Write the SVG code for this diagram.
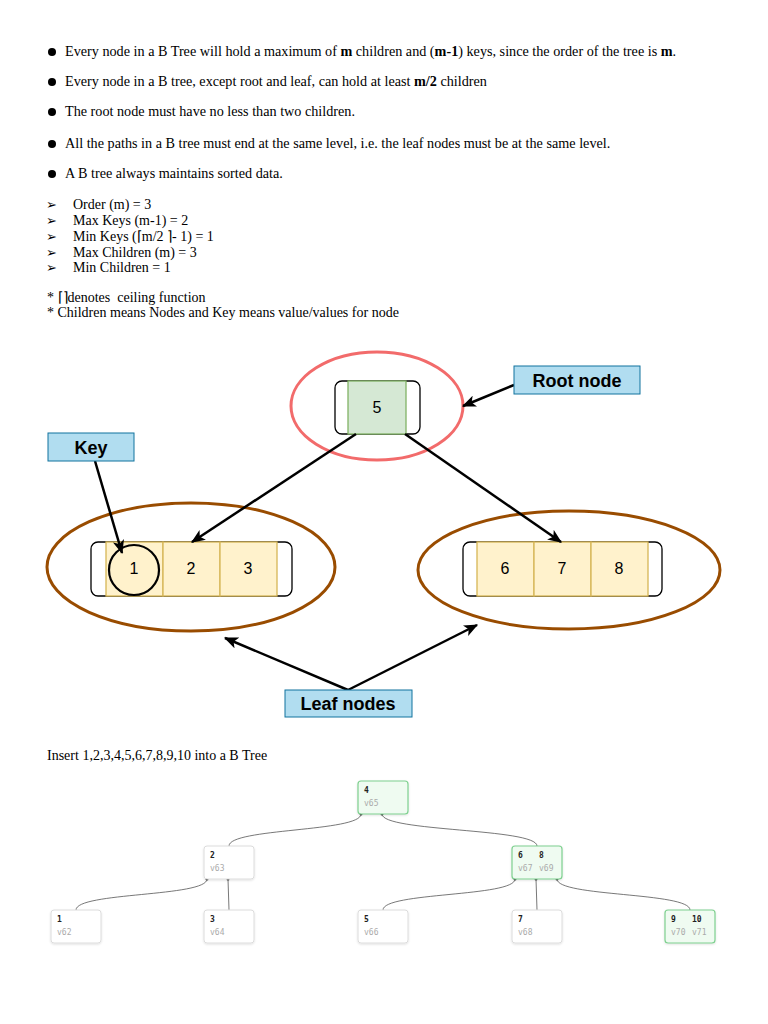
<svg xmlns="http://www.w3.org/2000/svg" width="768" height="1024" viewBox="0 0 768 1024">
<defs>
<marker id="arr" viewBox="0 0 12 10" refX="11" refY="5" markerWidth="14" markerHeight="12" markerUnits="userSpaceOnUse" orient="auto">
<path d="M0,0 L12,5 L0,10 L3,5 Z" fill="#000"/>
</marker>
<filter id="sh" x="-10%" y="-10%" width="130%" height="140%">
<feDropShadow dx="0" dy="1" stdDeviation="0.8" flood-color="#000" flood-opacity="0.12"/>
</filter>
</defs>
<style>
.t{font-family:"Liberation Serif","Times New Roman",serif;font-size:14.2px;fill:#000;}
.l{font-family:"Liberation Serif","Times New Roman",serif;font-size:14px;fill:#000;white-space:pre;}
.ar{font-family:"DejaVu Sans",sans-serif;font-size:13px;fill:#000;}
.k{font-family:"Liberation Sans",Arial,sans-serif;font-size:16px;fill:#000;text-anchor:middle;}
.lab{font-family:"Liberation Sans",Arial,sans-serif;font-size:18px;font-weight:bold;fill:#000;text-anchor:middle;}
.labbox{fill:#B1DDF0;stroke:#10739E;stroke-width:1;}
.brk{fill:#fff;stroke:#000;stroke-width:1.3;}
.yc{fill:#FFF2CC;stroke:#D6B656;stroke-width:1.3;}
.gc{fill:#D5E8D4;stroke:#82B366;stroke-width:1.3;}
.ln{stroke:#000;stroke-width:2.5;fill:none;}
.wn{fill:#fff;stroke:#dcdcdc;stroke-width:1;}
.gn{fill:#EFFBF1;stroke:#7ED08F;stroke-width:1.2;}
.nk{font-family:"DejaVu Sans Mono",monospace;font-size:8px;font-weight:bold;fill:#222;}
.nv{font-family:"DejaVu Sans Mono",monospace;font-size:8px;fill:#aaa;}
.cn{stroke:#555;stroke-width:0.8;fill:none;}
.dot{fill:#444;}
</style>
<rect width="768" height="1024" fill="#fff"/>

<g id="bullets">
<circle cx="52" cy="52" r="4"/>
<text class="t" x="65" y="56">Every node in a B Tree will hold a maximum of <tspan font-weight="bold">m</tspan> children and (<tspan font-weight="bold">m-1</tspan>) keys, since the order of the tree is <tspan font-weight="bold">m</tspan>.</text>
<circle cx="52" cy="82" r="4"/>
<text class="t" x="65" y="86">Every node in a B tree, except root and leaf, can hold at least <tspan font-weight="bold">m/2</tspan> children</text>
<circle cx="52" cy="112" r="4"/>
<text class="t" x="65" y="116">The root node must have no less than two children.</text>
<circle cx="52" cy="144" r="4"/>
<text class="t" x="65" y="148">All the paths in a B tree must end at the same level, i.e. the leaf nodes must be at the same level.</text>
<circle cx="52" cy="174" r="4"/>
<text class="t" x="65" y="178">A B tree always maintains sorted data.</text>
</g>

<g id="list">
<text class="ar" x="46" y="209">➢</text>
<text class="l" x="73" y="209">Order (m) = 3</text>
<text class="ar" x="46" y="225">➢</text>
<text class="l" x="73" y="225">Max Keys (m-1) = 2</text>
<text class="ar" x="46" y="241">➢</text>
<text class="l" x="73" y="241">Min Keys (⌈m/2 ⌉- 1) = 1</text>
<text class="ar" x="46" y="257">➢</text>
<text class="l" x="73" y="257">Max Children (m) = 3</text>
<text class="ar" x="46" y="272">➢</text>
<text class="l" x="73" y="272">Min Children = 1</text>
<text class="l" x="47" y="302">* ⌈⌉denotes  ceiling function</text>
<text class="l" x="47" y="317">* Children means Nodes and Key means value/values for node</text>
</g>

<g id="root-ellipse">
<ellipse cx="377" cy="406" rx="86" ry="54" fill="none" stroke="#F26B6B" stroke-width="3"/>
</g>
<g id="leaf-ellipses">
<ellipse cx="191" cy="567" rx="144" ry="64" fill="none" stroke="#994C00" stroke-width="3"/>
<ellipse cx="569" cy="570" rx="151" ry="59" fill="none" stroke="#994C00" stroke-width="3"/>
</g>

<g id="root-node">
<rect class="brk" x="335" y="381" width="85" height="53" rx="7"/>
<rect class="gc" x="348" y="381" width="58" height="53"/>
<text class="k" x="377" y="413">5</text>
</g>

<g id="left-leaf">
<rect class="brk" x="91" y="542" width="201" height="54" rx="7"/>
<rect class="yc" x="106" y="542" width="57" height="54"/>
<rect class="yc" x="163" y="542" width="57" height="54"/>
<rect class="yc" x="220" y="542" width="57" height="54"/>
<circle cx="134" cy="570" r="25" fill="none" stroke="#000" stroke-width="2.2"/>
<text class="k" x="134" y="574">1</text>
<text class="k" x="191" y="574">2</text>
<text class="k" x="248" y="574">3</text>
</g>

<g id="right-leaf">
<rect class="brk" x="463" y="542" width="199" height="54" rx="7"/>
<rect class="yc" x="477" y="542" width="57" height="54"/>
<rect class="yc" x="534" y="542" width="57" height="54"/>
<rect class="yc" x="591" y="542" width="57" height="54"/>
<text class="k" x="505" y="574">6</text>
<text class="k" x="562" y="574">7</text>
<text class="k" x="619" y="574">8</text>
</g>

<g id="connectors">
<line class="ln" x1="356" y1="434" x2="192" y2="542" marker-end="url(#arr)"/>
<line class="ln" x1="405" y1="434" x2="561" y2="542" marker-end="url(#arr)"/>
<line class="ln" x1="514" y1="385" x2="463" y2="406" marker-end="url(#arr)"/>
<line class="ln" x1="95" y1="461" x2="122" y2="553" marker-end="url(#arr)"/>
<line class="ln" x1="348" y1="690" x2="225" y2="638" marker-end="url(#arr)"/>
<line class="ln" x1="348" y1="690" x2="477" y2="625" marker-end="url(#arr)"/>
</g>

<g id="label-root">
<rect class="labbox" x="514" y="366" width="126" height="28"/>
<text class="lab" x="577" y="387">Root node</text>
</g>
<g id="label-key">
<rect class="labbox" x="48" y="433" width="86" height="28"/>
<text class="lab" x="91" y="454">Key</text>
</g>
<g id="label-leaf">
<rect class="labbox" x="285" y="690" width="127" height="27"/>
<text class="lab" x="348" y="710">Leaf nodes</text>
</g>

<g id="insert-caption">
<text class="l" x="47" y="760">Insert 1,2,3,4,5,6,7,8,9,10 into a B Tree</text>
</g>

<g id="tree-connectors">
<path class="cn" d="M361,814 C361,832 229,828 229,846"/>
<path class="cn" d="M382,814 C382,832 537,828 537,846"/>
<path class="cn" d="M207,879 C207,897 76,892 76,910"/>
<path class="cn" d="M228,879 L229,910"/>
<path class="cn" d="M515,879 C515,897 383,892 383,910"/>
<path class="cn" d="M536,879 L537,910"/>
<path class="cn" d="M557,879 C557,897 690,892 690,910"/>
<circle class="dot" cx="361" cy="814" r="1.5"/>
<circle class="dot" cx="382" cy="814" r="1.5"/>
<circle class="dot" cx="207" cy="879" r="1.5"/>
<circle class="dot" cx="228" cy="879" r="1.5"/>
<circle class="dot" cx="515" cy="879" r="1.5"/>
<circle class="dot" cx="536" cy="879" r="1.5"/>
<circle class="dot" cx="557" cy="879" r="1.5"/>
</g>

<g id="t4">
<rect class="gn" x="358" y="781" width="50" height="33" rx="3" filter="url(#sh)"/>
<text class="nk" x="364" y="793">4</text>
<text class="nv" x="364" y="806">v65</text>
</g>
<g id="t2">
<rect class="wn" x="204" y="846" width="50" height="33" rx="3" filter="url(#sh)"/>
<text class="nk" x="210" y="858">2</text>
<text class="nv" x="210" y="871">v63</text>
</g>
<g id="t68">
<rect class="gn" x="512" y="846" width="50" height="33" rx="3" filter="url(#sh)"/>
<text class="nk" x="518" y="858">6</text>
<text class="nk" x="539" y="858">8</text>
<text class="nv" x="518" y="871">v67</text>
<text class="nv" x="539" y="871">v69</text>
</g>
<g id="t1">
<rect class="wn" x="51" y="910" width="50" height="33" rx="3" filter="url(#sh)"/>
<text class="nk" x="57" y="922">1</text>
<text class="nv" x="57" y="935">v62</text>
</g>
<g id="t3">
<rect class="wn" x="204" y="910" width="50" height="33" rx="3" filter="url(#sh)"/>
<text class="nk" x="210" y="922">3</text>
<text class="nv" x="210" y="935">v64</text>
</g>
<g id="t5">
<rect class="wn" x="358" y="910" width="50" height="33" rx="3" filter="url(#sh)"/>
<text class="nk" x="364" y="922">5</text>
<text class="nv" x="364" y="935">v66</text>
</g>
<g id="t7">
<rect class="wn" x="512" y="910" width="50" height="33" rx="3" filter="url(#sh)"/>
<text class="nk" x="518" y="922">7</text>
<text class="nv" x="518" y="935">v68</text>
</g>
<g id="t910">
<rect class="gn" x="665" y="910" width="50" height="33" rx="3" filter="url(#sh)"/>
<text class="nk" x="671" y="922">9</text>
<text class="nk" x="692" y="922">10</text>
<text class="nv" x="671" y="935">v70</text>
<text class="nv" x="692" y="935">v71</text>
</g>
</svg>
